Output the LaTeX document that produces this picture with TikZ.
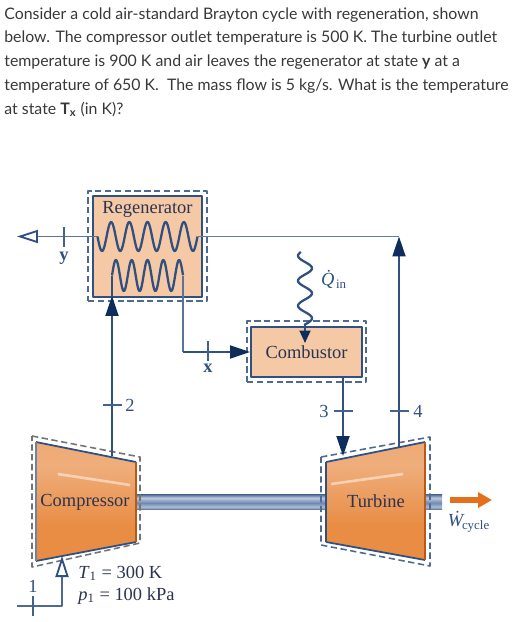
\documentclass[tikz,border=0pt]{standalone}
\usepackage{fontspec}
\setmainfont{Liberation Serif}
\newfontfamily\latofont{Lato}
\usetikzlibrary{arrows.meta}
\definecolor{wireblue}{HTML}{2F5080}
\definecolor{darkblue}{HTML}{0F2D5C}
\definecolor{peach}{HTML}{F5C9A6}
\definecolor{inkblue}{HTML}{2A3350}
\definecolor{workorange}{HTML}{E4701E}
\definecolor{machineA}{HTML}{F0B384}
\definecolor{machineB}{HTML}{E98D45}
\definecolor{machineC}{HTML}{EFAE7C}
\definecolor{machineD}{HTML}{EBA26C}
\definecolor{shaftA}{HTML}{27467A}
\definecolor{shaftB}{HTML}{AEBED6}
\definecolor{shaftC}{HTML}{6F87B0}
\definecolor{shaftD}{HTML}{BCCADF}
\pgfdeclareverticalshading{machineshade}{100bp}{color(0bp)=(machineA); color(10bp)=(machineB); color(40bp)=(machineB); color(65bp)=(machineC); color(90bp)=(machineD); color(100bp)=(machineD)}
\pgfdeclareverticalshading{shaftshade}{100bp}{color(0bp)=(shaftA); color(18bp)=(shaftA); color(32bp)=(shaftB); color(45bp)=(shaftC); color(62bp)=(shaftD); color(78bp)=(shaftA); color(100bp)=(shaftA)}
\tikzset{
	wire/.style={draw=wireblue, line width=1.05pt},
	coil/.style={draw=wireblue, line width=1.3pt, smooth},
	cvline/.style={draw=wireblue!85!white, line width=0.9pt, dash pattern=on 3.6pt off 2pt},
	unitbox/.style={draw=wireblue, line width=1.1pt, fill=peach, inner sep=0pt},
	cvbox/.style={cvline, inner sep=0pt},
	solidtip/.style={-{Triangle[length=0.4cm,width=0.26cm,color=darkblue]}},
	opentip/.style={-{Triangle[open,length=0.42cm,width=0.26cm,color=wireblue,fill=white]}},
	tag/.style={font=\fontsize{10.5}{12}\selectfont, text=inkblue, inner sep=0pt},
	statetag/.style={font=\fontsize{10.5}{12}\selectfont\bfseries, text=wireblue, inner sep=0pt}
}
\begin{document}
\begin{tikzpicture}[x=0.02cm, y=-0.02cm, line join=round]
	\useasboundingbox (0,0) rectangle (514,622);

	\node[anchor=north west, align=left, inner sep=0pt, text=black!78, font=\latofont\fontsize{9.03}{13.6}\selectfont] (question) at (4,7) {Consider a cold air-standard Brayton cycle with regeneration, shown\\
	below. The compressor outlet temperature is 500 K. The turbine outlet\\
	temperature is 900 K and air leaves the regenerator at state \textbf{y} at a\\
	temperature of 650 K.\ \ The mass flow is 5 kg/s. What is the temperature\\
	at state \textbf{T\textsubscript{x}} (in K)?};

	% shaft
	\shade[shading=shaftshade] (136,494) rectangle (326,509);
	\shade[shading=shaftshade] (425,494) rectangle (442,509);

	% compressor and turbine
	\shade[shading=machineshade] (36,442) -- (136,462) -- (136,542) -- (36,561) -- cycle;
	\shade[shading=machineshade] (326,462) -- (425,442) -- (425,560) -- (326,542) -- cycle;
	\draw[draw=wireblue, line width=1pt] (36,442) -- (136,462);
	\draw[draw=wireblue, line width=1pt] (136,542) -- (36,561);
	\draw[draw=wireblue, line width=1pt] (326,462) -- (425,442);
	\draw[draw=wireblue, line width=1pt] (326,542) -- (425,560);
	\draw[draw=wireblue!70!white, line width=0.7pt] (36,442) -- (36,561);
	\draw[draw=workorange!80!black, line width=0.9pt] (136,462) -- (136,542);
	\draw[draw=wireblue, line width=1pt] (326,462) -- (326,542);
	\draw[draw=workorange!80!black, line width=0.9pt] (425,442) -- (425,560);
	\draw[draw=white!80!peach, line width=1.5pt, opacity=0.55] (58,474) -- (130,485);
	\draw[draw=white!80!peach, line width=1.5pt, opacity=0.55] (331,484) -- (403,474);
	\draw[cvline, draw=black!55] (32,436) -- (140,457) -- (140,543) -- (32,567) -- cycle;
	\draw[cvline] (321,457) -- (430,437) -- (430,566) -- (321,545) -- cycle;

	% regenerator and combustor
	\node[cvbox, minimum width=2.38cm, minimum height=2.2cm] (regenCV) at (147.5,246) {};
	\node[unitbox, minimum width=2.18cm, minimum height=2.02cm] (regen) at (147.5,246.5) {};
	\node[cvbox, minimum width=2.38cm, minimum height=1.22cm] (combustorCV) at (306.5,351.5) {};
	\node[unitbox, tag, minimum width=2.22cm, minimum height=1cm] (combustor) at (306.5,352) {Combustor};
	\node[tag] (regenName) at (147.5,209) {Regenerator};
	\node[tag] (compressorName) at (85,502) {Compressor};
	\node[tag] (turbineName) at (376,501) {Turbine};

	\coordinate (hotIn) at (197.5,236.5);
	\coordinate (hotOut) at (97.5,236.5);
	\coordinate (stateY) at (17,236.5);
	\coordinate (turbineCorner) at (399,236.5);
	\coordinate (turbineOut) at (399,447);
	\coordinate (coldIn) at (112,275.5);
	\coordinate (coldInTip) at (112,296);
	\coordinate (coldOut) at (183,275.5);
	\coordinate (coldCorner) at (183,352);
	\coordinate (compressorOut) at (112,456);
	\coordinate (burnerOut) at (343,377);
	\coordinate (turbineIn) at (343,456);
	\coordinate (inletFree) at (17,606);
	\coordinate (inletCorner) at (62,606);
	\coordinate (inletTip) at (62,556);
	\coordinate (heatEnd) at (305,325);
	\coordinate (heatTip) at (305,343);

	% coils
	\draw[coil] plot[domain=97.5:197.5, samples=160] (\x,{236.5+14.5*sin(19.8*(\x-97.5))});
	\draw[coil] plot[domain=112:183, samples=130] (\x,{275.5-15.5*sin(22.8*(\x-112))});

	% flow lines
	\draw[wire, draw=wireblue!80!white, opentip] (hotOut) -- (stateY);
	\draw[wire, draw=wireblue!75!white] (hotIn) -- (turbineCorner);
	\draw[wire, solidtip] (turbineOut) -- (turbineCorner);
	\draw[wire, draw=wireblue!80!white] (coldOut) -- (coldCorner);
	\draw[wire, solidtip] (coldCorner) -- (combustor.west);
	\draw[wire, solidtip] (compressorOut) -- (coldInTip);
	\draw[wire] (coldInTip) -- (coldIn);
	\draw[wire, solidtip] (burnerOut) -- (turbineIn);
	\draw[wire, draw=wireblue!85!white, opentip] (inletFree) -- (inletCorner) -- (inletTip);

	% heat in
	\draw[coil, line width=1.3pt] plot[domain=252:325, samples=80] ({305+7*sin(14.4*(\x-262))},\x);
	\draw[wire, -{Triangle[length=0.25cm,width=0.22cm,color=darkblue]}] (heatEnd) -- (heatTip);

	% ticks
	\foreach \tickx/\ticky in {64/237, 208/351, 33/606}
		\draw[wire, draw=wireblue!90!white] (\tickx,\ticky) +(0,-10) -- +(0,10);
	\foreach \tickx/\ticky in {112/405, 343/411, 399/411}
		\draw[wire, draw=wireblue!90!white] (\tickx,\ticky) +(-9.5,0) -- +(9.5,0);

	\node[statetag] (labelY) at (64,258) {y};
	\node[statetag] (labelX) at (208,368) {x};
	\node[tag, text=wireblue] (label1) at (33,586) {1};
	\node[tag, text=wireblue] (label2) at (130,405) {2};
	\node[tag, text=wireblue] (label3) at (324,411) {3};
	\node[tag, text=wireblue] (label4) at (418,411) {4};
	\node[tag, text=wireblue] (labelQ) at (334,279) {\textit{\.Q}\kern-2pt\textsubscript{in}};
	\node[tag, text=wireblue] (labelW) at (469,522) {\textit{\.W}\kern-1.5pt\textsubscript{cycle}};
	\node[tag, anchor=base west] (labelT) at (78,578) {\textit{T}\textsubscript{1} = 300 K};
	\node[tag, anchor=base west] (labelP) at (78,600) {\textit{p}\textsubscript{1} = 100 kPa};

	% work out
	\coordinate (workStart) at (450,500);
	\coordinate (workEnd) at (492,500);
	\draw[draw=workorange, line width=3.4pt, -{Triangle[length=0.28cm,width=0.3cm,color=workorange]}] (workStart) -- (workEnd);
\end{tikzpicture}
\end{document}
